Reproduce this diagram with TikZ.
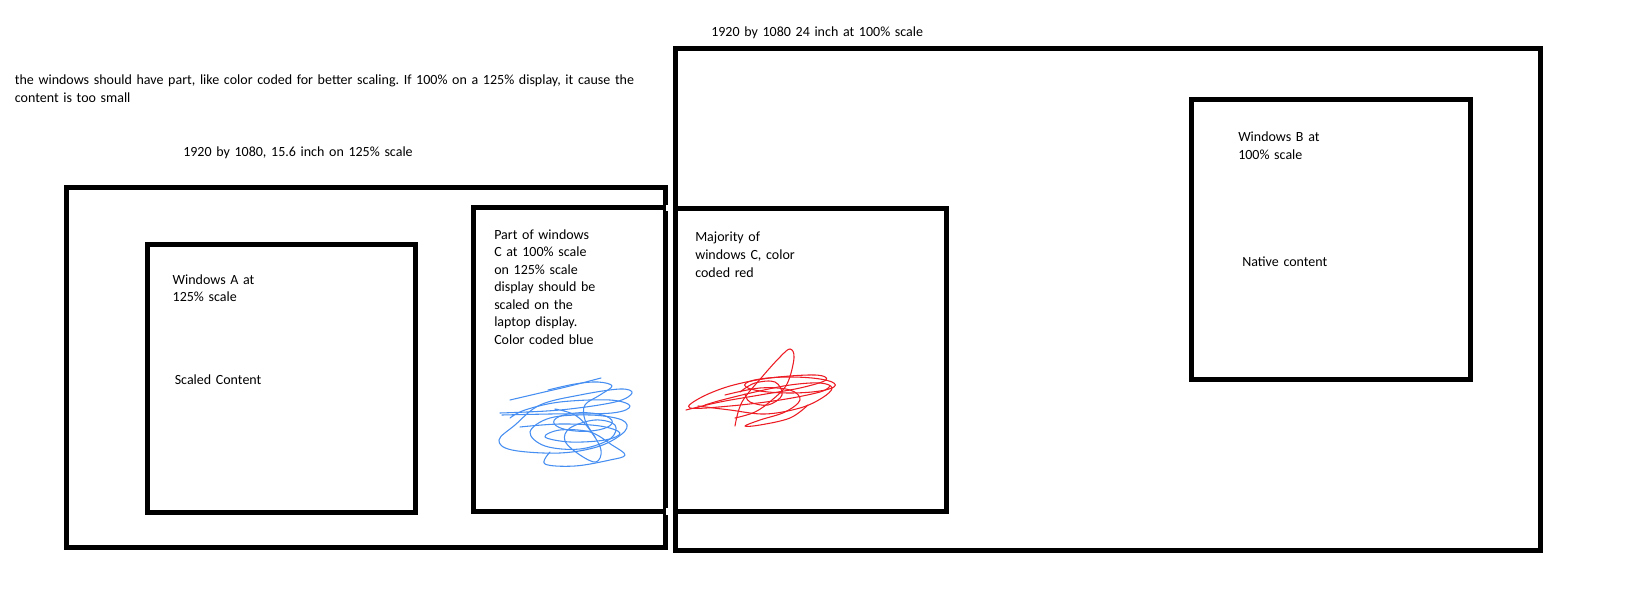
\documentclass[tikz,border=0pt]{standalone}
\usepackage{fontspec}
\setmainfont{Carlito}
\frenchspacing
\definecolor{scribblue}{RGB}{70,142,242}
\definecolor{scribred}{RGB}{237,28,36}
\begin{document}
\begin{tikzpicture}[x=0.75pt,y=-0.75pt,
  frame/.style={draw=black,line width=3.75pt,line join=miter},
  lbl/.style={anchor=base west,inner sep=0pt,font=\fontsize{10.5pt}{13.2pt}\selectfont,text width=260pt,align=left},
  scrib/.style={line width=0.8pt,line cap=round,line join=round}]
\useasboundingbox (0,0) rectangle (1636,606);
\fill[white] (0,0) rectangle (1636,606);
% boxes
\draw[frame] (66.5,187.5) rectangle (665.5,547.5);
\draw[frame] (675.5,48.5) rectangle (1540.5,550.5);
\draw[frame] (147.5,244.5) rectangle (415.5,512.5);
\draw[frame] (473.5,207.5) rectangle (665.5,511.5);
\draw[frame] (675.5,208.5) rectangle (946.5,511.5);
\draw[frame] (1191.5,99.5) rectangle (1470.5,379.5);
% white notches
\fill[white] (666,205) rectangle (673,211);
\fill[white] (666,508) rectangle (673,515);
% texts
\node[lbl,text width=800pt] (note) at (14.6,85) {the windows should have part, like color coded for better scaling. If 100\% on a 125\% display, it cause the\\content is too small};
\node[lbl,text width=400pt] (rtitle) at (711,36.7) {1920 by 1080 24 inch at 100\% scale};
\node[lbl,text width=400pt] (ltitle) at (183,156.2) {1920 by 1080, 15.6 inch on 125\% scale};
\node[lbl] (atext) at (172.4,284) {Windows A at\\125\% scale};
\node[lbl] (acont) at (174.5,384.7) {Scaled Content};
\node[lbl] (ctext) at (494,239) {Part of windows\\C at 100\% scale\\on 125\% scale\\display should be\\scaled on the\\laptop display.\\Color coded blue};
\node[lbl] (mtext) at (695,242) {Majority of\\windows C, color\\coded red};
\node[lbl] (btext) at (1238,141.7) {Windows B at\\100\% scale};
\node[lbl] (bcont) at (1242,266.4) {Native content};
% blue scribble
\draw[scrib,scribblue] plot[smooth,tension=0.7] coordinates {(510,400) (540,393) (570,386) (601,378)};
\draw[scrib,scribblue] plot[smooth,tension=0.6] coordinates {(500,413) (560,410) (615,402) (632,393) (620,389) (580,395) (540,405) (515,425) (499,440) (512,450) (560,453) (600,446) (625,431) (622,420) (590,415) (550,418) (530,432) (545,446) (580,449) (610,439) (615,425) (595,420) (570,428) (565,441) (580,455) (596,462) (601,450) (590,430) (575,415) (555,409)};
\draw[scrib,scribblue] plot[smooth,tension=0.6] coordinates {(502,415) (550,414) (612,413) (630,406) (610,400) (560,402) (525,410) (510,418)};
\draw[scrib,scribblue] plot[smooth,tension=0.6] coordinates {(520,427) (560,424) (600,426) (620,433) (605,440) (570,442) (545,437) (560,430) (590,432) (612,445) (625,455) (610,460) (575,466) (545,464) (550,452)};
\draw[scrib,scribblue] plot[smooth,tension=0.6] coordinates {(548,390) (575,384) (598,382) (612,386) (600,395) (585,405) (585,420) (595,437)};
\draw[scrib,scribblue] (583,422) ellipse[x radius=22pt,y radius=7pt];
% red scribble
\draw[scrib,scribred] plot[smooth,tension=0.6] coordinates {(686,410) (720,402) (760,395) (800,388) (826,380) (815,375) (770,378) (730,386) (700,398) (690,408) (730,406) (780,400) (820,392) (830,386)};
\draw[scrib,scribred] plot[smooth,tension=0.6] coordinates {(735,426) (742,402) (762,377) (780,357) (790,349) (794,358) (787,384) (772,400) (755,412) (735,418)};
\draw[scrib,scribred] plot[smooth,tension=0.6] coordinates {(698,406) (730,410) (765,414) (800,408) (822,398) (832,388) (820,383) (790,385) (755,392) (722,400) (705,405)};
\draw[scrib,scribred] plot[smooth,tension=0.6] coordinates {(725,395) (760,388) (790,390) (800,400) (785,412) (760,420) (745,426) (760,425) (790,418) (808,405)};
\draw[scrib,scribred] (790,385) ellipse[x radius=34pt,y radius=6pt];
\draw[scrib,scribred] plot[smooth,tension=0.6] coordinates {(740,392) (755,383) (775,382) (782,395) (768,405) (750,402) (745,394)};
\end{tikzpicture}
\end{document}
